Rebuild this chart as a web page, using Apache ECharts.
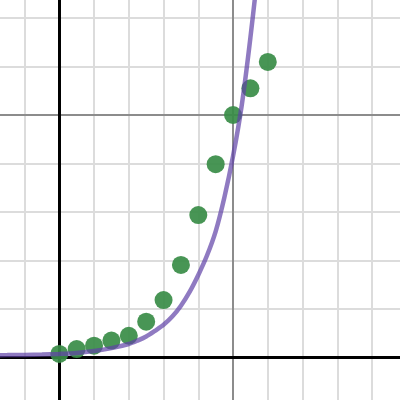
<!DOCTYPE html>
<html>
<head>
<meta charset="utf-8">
<script src="https://cdn.jsdelivr.net/npm/echarts@6/dist/echarts.min.js"></script>
<style>html,body{margin:0;padding:0;background:#fff}#c{width:400px;height:400px}</style>
</head>
<body>
<div id="c"></div>
<script>
// data points
const pointX = [0, 1, 2, 3, 4, 5, 6, 7, 8, 9, 10, 11, 12];
const pointY = [1.4, 3.4, 4.8, 6.9, 8.9, 14.7, 23.6, 38.1, 58.7, 79.7, 100, 111, 121.9];
// fitted curve
const curveX = [-4, -3, -2, -1, 0, 1, 2, 3, 4, 4.5, 5, 5.5, 6, 6.5, 7, 7.5, 8, 8.5, 9, 9.5, 10, 10.5, 11, 11.5, 12];
const curveY = [0.8, 0.9, 1.0, 1.15, 1.4, 1.8, 2.6, 3.8, 5.5, 6.9, 8.6, 10.9, 13.4, 16.8, 21.3, 27, 34, 42, 52, 66, 83, 104, 132, 165, 210];
// grid lines
const minorX = [-2, 2, 4, 6, 8, 12, 14, 16, 18];
const majorX = [10];
const axisX = [0];
const minorY = [-20, 20, 40, 60, 80, 120, 140];
const majorY = [100];
const axisY = [0];
// view window
const xRange = [-3.414, 19.61];
const yRange = [-17.62, 147.46];

const chart = echarts.init(document.getElementById('c'));
function ml(xs, ys, color, width) {
  return xs.map(v => ({ xAxis: v, lineStyle: { color: color, width: width, type: 'solid' } }))
    .concat(ys.map(v => ({ yAxis: v, lineStyle: { color: color, width: width, type: 'solid' } })));
}
chart.setOption({
  animation: false,
  grid: { left: 0, right: 0, top: 0, bottom: 0 },
  xAxis: { type: 'value', min: xRange[0], max: xRange[1], show: true,
    axisLine: { show: false }, axisTick: { show: false }, axisLabel: { show: false }, splitLine: { show: false } },
  yAxis: { type: 'value', min: yRange[0], max: yRange[1], show: true,
    axisLine: { show: false }, axisTick: { show: false }, axisLabel: { show: false }, splitLine: { show: false } },
  series: [
    { type: 'line', data: [], z: 1, zlevel: 0, silent: true,
      markLine: { silent: true, symbol: ['none', 'none'], label: { show: false },
        animation: false,
        data: ml(minorX, minorY, '#dcdcdc', 2)
          .concat(ml(majorX, majorY, '#8c8c8c', 2))
          .concat(ml(axisX, axisY, '#000000', 3)) } },
    { type: 'scatter', z: 3, zlevel: 1, symbolSize: 18,
      itemStyle: { color: '#388c46', opacity: 0.92 },
      data: pointX.map((x, i) => [x, pointY[i]]) },
    { type: 'line', z: 4, zlevel: 1, smooth: 0.3, showSymbol: false,
      lineStyle: { color: '#6042a6', width: 4.5, opacity: 0.7 },
      data: curveX.map((x, i) => [x, curveY[i]]) }
  ]
});
</script>
</body>
</html>
